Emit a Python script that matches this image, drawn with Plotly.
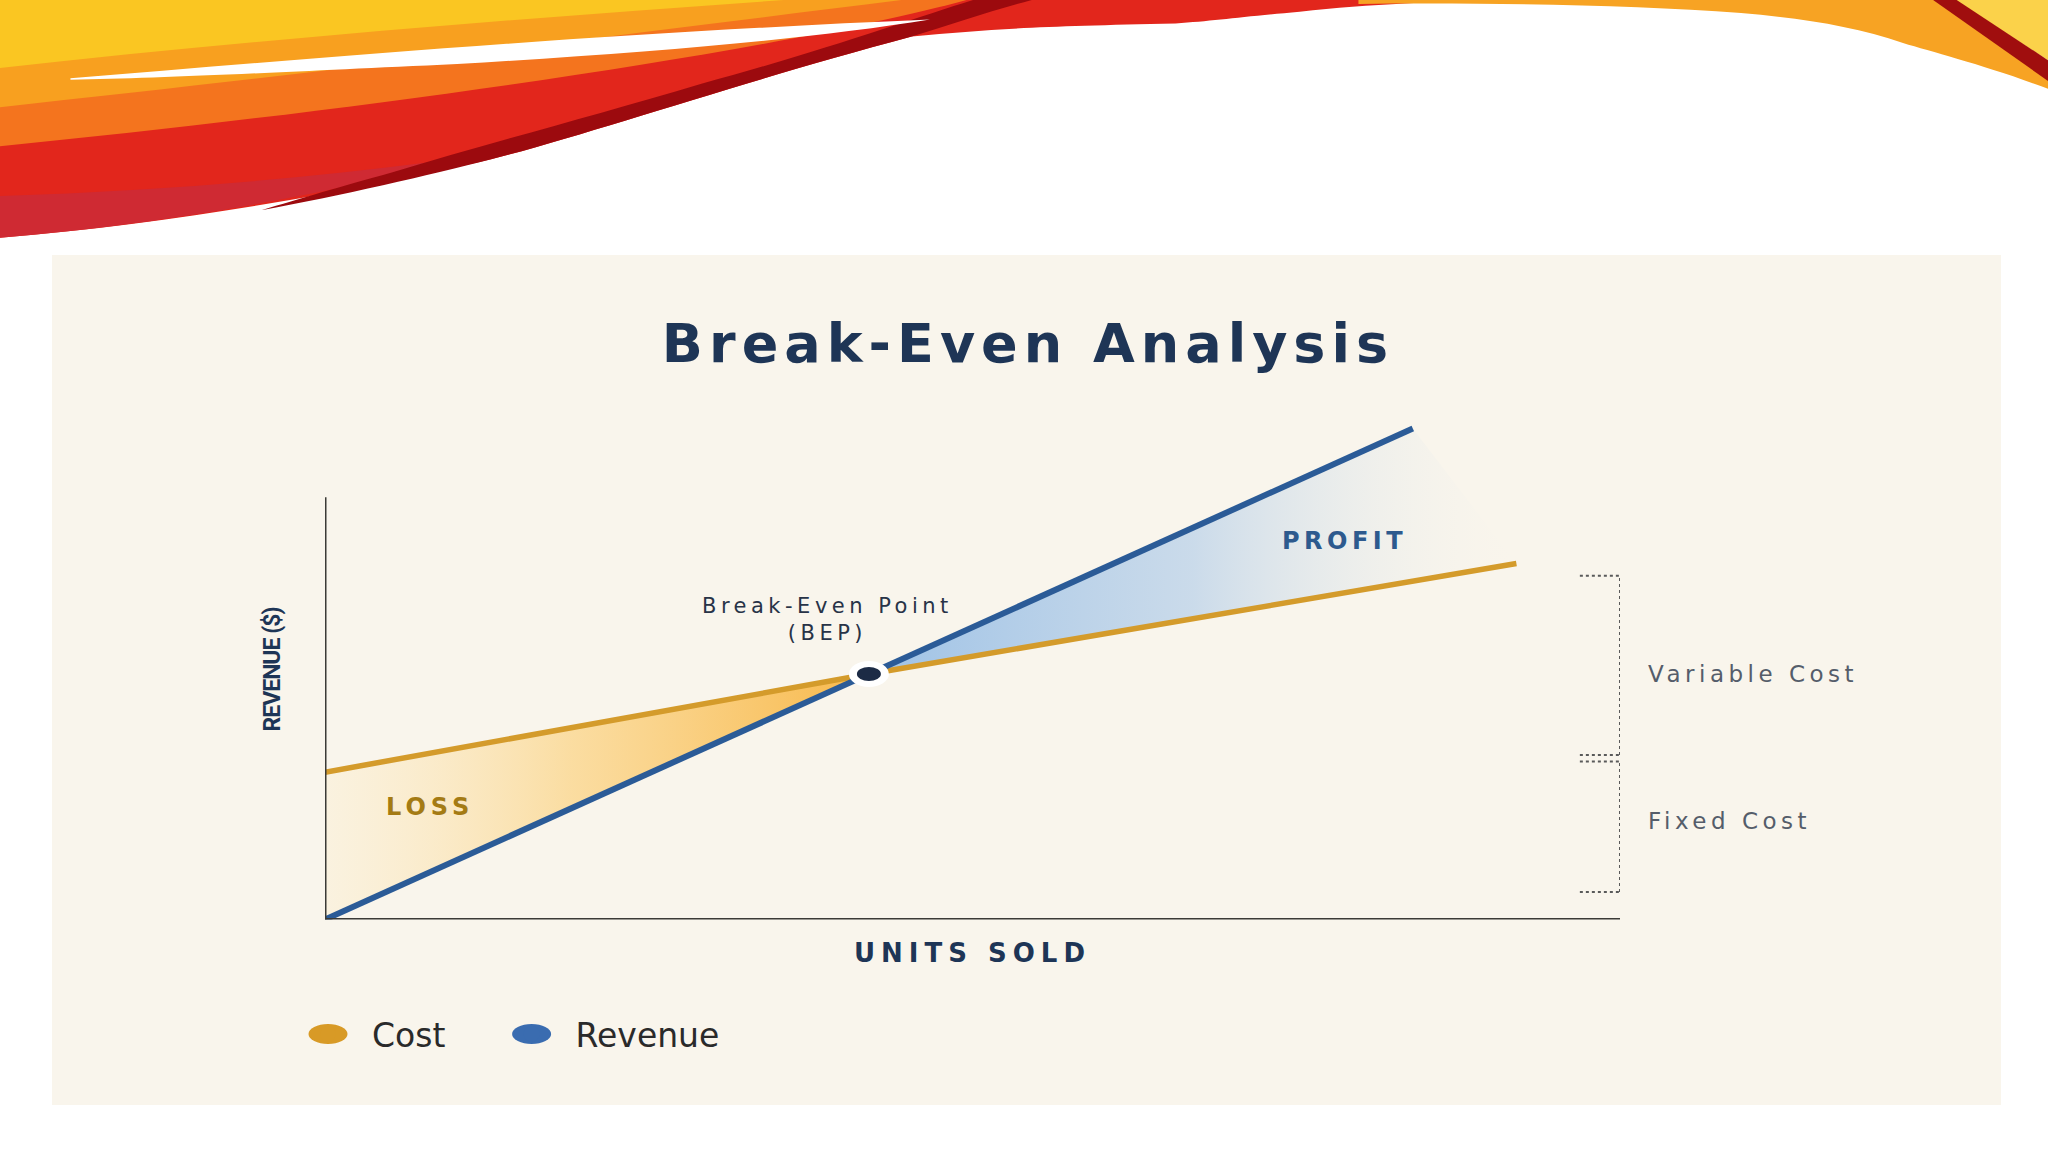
import plotly.graph_objects as go

# ---------------- data ----------------
units_revenue = [0, 42, 84]
revenue = [0, 50, 100]
units_cost = [0, 42, 92]
cost = [30, 50, 72.5]
bep_units = [42]
bep_value = [50]
fixed_cost_span = [5.6, 32.2]
variable_cost_span = [33.5, 70]
axis_top_value = 86
bracket_units = [96.9, 100]
legend_names = ["Cost", "Revenue"]

# ---------------- colours / fonts ----------------
NAVY = "#1E3556"
COST_C = "#D49B2B"
REV_C = "#2B5B97"
PANEL = "#F9F5EC"
FONT = "'DejaVu Sans', Inter, sans-serif"
W, H = 2048, 1152


def PX(x):  # page pixel -> paper x
    return x / W


def PY(y):  # page pixel -> paper y
    return 1 - y / H


def sp(text, px):
    return f'<span style="letter-spacing:{px}px">{text}</span>'


fig = go.Figure()

# loss area
fig.add_trace(go.Scatter(
    x=[units_cost[0], bep_units[0], units_revenue[0], units_cost[0]],
    y=[cost[0], bep_value[0], revenue[0], cost[0]],
    mode="lines", line=dict(width=0), fill="toself",
    fillgradient=dict(type="horizontal",
                      colorscale=[[0, "rgba(252,236,200,0.35)"],
                                  [0.45, "rgba(251,214,140,0.78)"],
                                  [1, "rgba(248,184,74,1)"]]),
    hoverinfo="skip", showlegend=False))

# profit area
fig.add_trace(go.Scatter(
    x=[bep_units[0], units_revenue[-1], units_cost[-1], bep_units[0]],
    y=[bep_value[0], revenue[-1], cost[-1], bep_value[0]],
    mode="lines", line=dict(width=0), fill="toself",
    fillgradient=dict(type="horizontal",
                      colorscale=[[0, "rgba(158,194,230,1)"],
                                  [0.5, "rgba(194,214,234,0.85)"],
                                  [1, "rgba(245,243,236,0)"]]),
    hoverinfo="skip", showlegend=False))

fig.add_trace(go.Scatter(x=units_cost, y=cost, mode="lines", name=legend_names[0],
                         line=dict(color=COST_C, width=5.5),
                         hoverinfo="skip", showlegend=False))
fig.add_trace(go.Scatter(x=units_revenue, y=revenue, mode="lines", name=legend_names[1],
                         line=dict(color=REV_C, width=6),
                         hoverinfo="skip", showlegend=False))
fig.add_trace(go.Scatter(x=bep_units, y=bep_value, mode="markers", name="BEP",
                         marker=dict(size=14, color="#1C2B45"),
                         hoverinfo="skip", showlegend=False))

# legend entries (one legend each, so they can be spaced like the reference)
LEG_COLS = ["#D89A26", "#3A6CB0"]
LEG_X = [328, 531.6]
for nm, col, lg in zip(legend_names, LEG_COLS, ("legend", "legend2")):
    fig.add_trace(go.Scatter(x=[None], y=[None], mode="markers", name=nm, legend=lg,
                             marker=dict(size=16, color=col)))

# ---------------- decorative background (displayed-image coords) ----------------
S = W / 1568


def D(x, y):
    return f"{PX(x * S):.4f},{PY(y * S):.4f}"


def path(pts):
    return " ".join(p if isinstance(p, str) else D(*p) for p in pts)


deco = [
    # red base swoosh
    ("#E2261C", ["M", (0, 0), "L", (1160, 0), "C", (1100, 1), (1050, 3), (995, 9),
                 "C", (950, 13), (930, 16), (900, 18), "C", (800, 20), (760, 22), (698, 28),
                 "C", (560, 65), (460, 100), (376, 122), "C", (300, 140), (150, 170), (0, 182), "Z"]),
    # crimson lower-left
    ("#CF2A33", ["M", (0, 150), "C", (120, 146), (220, 138), (330, 124), "C", (300, 138), (150, 170),
                 (0, 182), "Z"]),
    # dark ribbon edge
    ("#9C0A0E", ["M", (200, 161), "C", (260, 150), (330, 134), (376, 122),
                 "C", (460, 100), (560, 65), (698, 28), "C", (730, 18), (760, 8), (790, 0),
                 "L", (745, 0), "C", (700, 14), (620, 42), (537, 64),
                 "C", (450, 90), (380, 108), (300, 132), "C", (260, 143), (230, 152), (200, 161), "Z"]),
    # orange
    ("#F4741E", ["M", (0, 0), "L", (740, 0), "C", (600, 38), (300, 82), (0, 112), "Z"]),
    # yellow-orange
    ("#F8A01F", ["M", (0, 0), "L", (690, 0), "C", (450, 30), (250, 55), (0, 82), "Z"]),
    # yellow
    ("#FAC622", ["M", (0, 0), "L", (600, 0), "C", (400, 14), (200, 30), (0, 52), "Z"]),
    # white streak
    ("#FFFFFF", ["M", (54, 60), "C", (250, 44), (450, 26), (712, 15),
                 "C", (620, 30), (500, 40), (350, 49), "C", (200, 56), (120, 60), (54, 61), "Z"]),
    # top-right orange band
    ("#F7A323", ["M", (1040, 0), "L", (1490, 0), "L", (1568, 52), "L", (1568, 68),
                 "C", (1520, 50), (1480, 40), (1457, 33), "C", (1420, 20), (1380, 14), (1333, 10),
                 "C", (1250, 4), (1150, 2), (1040, 3), "Z"]),
    ("#FBD24A", ["M", (1496, 0), "L", (1568, 0), "L", (1568, 46), "Z"]),
    ("#A00E0E", ["M", (1480, 0), "L", (1498, 0), "L", (1568, 46), "L", (1568, 62), "Z"]),
]

shapes = []
for col, pts in deco:
    shapes.append(dict(type="path", xref="paper", yref="paper", path=path(pts),
                       fillcolor=col, line=dict(width=0), layer="below"))

# cream panel
shapes.append(dict(type="rect", xref="paper", yref="paper",
                   x0=PX(52), x1=PX(2001), y0=PY(1105), y1=PY(255),
                   fillcolor=PANEL, line=dict(width=0), layer="below"))

# axis lines
AX = "#3B3A36"
shapes.append(dict(type="line", xref="x", yref="y", x0=0, x1=100, y0=0, y1=0,
                   line=dict(color=AX, width=3)))
shapes.append(dict(type="line", xref="x", yref="y", x0=0, x1=0, y0=0, y1=axis_top_value,
                   line=dict(color=AX, width=3)))

# BEP point: white halo + dark elliptical dot
for (hw, hh), col in (((20, 13), "#FFFFFF"), ((12, 7), "#1C2B45")):
    shapes.append(dict(type="circle", xref="x", yref="y", xsizemode="pixel", ysizemode="pixel",
                       xanchor=bep_units[0], yanchor=bep_value[0],
                       x0=-hw, x1=hw, y0=-hh, y1=hh, fillcolor=col, line=dict(width=0),
                       layer="above"))

# dotted brackets
BR = "#5A5A5A"
for lo, hi in (variable_cost_span, fixed_cost_span):
    shapes.append(dict(type="line", xref="x", yref="y", x0=bracket_units[1], x1=bracket_units[1],
                       y0=lo, y1=hi, line=dict(color=BR, width=2, dash="dot")))
    for yv in (lo, hi):
        shapes.append(dict(type="line", xref="x", yref="y", x0=bracket_units[0],
                           x1=bracket_units[1], y0=yv, y1=yv,
                           line=dict(color=BR, width=2, dash="dot")))

# legend symbols drawn as ellipses over the legend markers
for cx, col in zip(LEG_X, LEG_COLS):
    shapes.append(dict(type="circle", xref="paper", yref="paper",
                       x0=PX(cx - 19.5), x1=PX(cx + 19.5), y0=PY(1034 + 10), y1=PY(1034 - 10),
                       fillcolor=col, line=dict(width=0), layer="above"))

annotations = [
    dict(x=8.1, y=22.9, xref="x", yref="y", text=sp("<b>LOSS</b>", 5), showarrow=False,
         font=dict(family=FONT, size=24, color="#A47B14")),
    dict(x=78.7, y=77.1, xref="x", yref="y", text=sp("<b>PROFIT</b>", 4.5), showarrow=False,
         font=dict(family=FONT, size=24, color="#2D5A8E")),
    dict(x=38.8, y=61.0, xref="x", yref="y", text=sp("Break-Even Point<br>(BEP)", 4.5),
         showarrow=False, font=dict(family=FONT, size=21, color="#283347")),
    dict(x=PX(1646), y=PY(674), xref="paper", yref="paper", xanchor="left",
         text=sp("Variable Cost", 4.5), showarrow=False,
         font=dict(family=FONT, size=23, color="#555D6A")),
    dict(x=PX(1646), y=PY(836), xref="paper", yref="paper", xanchor="left",
         text=sp("Fixed Cost", 4.5), showarrow=False,
         font=dict(family=FONT, size=23, color="#555D6A")),
    dict(x=PX(256), y=PY(670), xref="paper", yref="paper", textangle=-90,
         text=sp("<b>REVENUE ($)</b>", -1), showarrow=False,
         font=dict(family="Roboto, sans-serif", size=23, color=NAVY)),
]

LEG_FONT = dict(family=FONT, size=33, color="#2A2A2A")
fig.update_layout(
    width=W, height=H,
    margin=dict(l=0, r=0, t=0, b=0),
    paper_bgcolor="#FFFFFF", plot_bgcolor="rgba(0,0,0,0)",
    title=dict(text=sp("<b>Break-Even Analysis</b>", 6), x=PX(1028), y=PY(343.5),
               xref="paper", yref="paper", xanchor="center", yanchor="middle",
               font=dict(family=FONT, size=54, color=NAVY)),
    xaxis=dict(domain=[PX(325), PX(1620)], range=[0, 100], showgrid=False,
               zeroline=False, showline=False, showticklabels=False, ticks="",
               title=dict(text=sp("<b>UNITS SOLD</b>", 6), standoff=24,
                          font=dict(family=FONT, size=26, color=NAVY))),
    yaxis=dict(domain=[PY(919.5), PY(330.3)], range=[0, 120], showgrid=False,
               zeroline=False, showline=False, showticklabels=False, ticks=""),
    legend=dict(orientation="h", x=PX(LEG_X[0] - 44), y=PY(1034), xanchor="left",
                yanchor="middle", font=LEG_FONT, itemwidth=78,
                bgcolor="rgba(0,0,0,0)", borderwidth=0),
    legend2=dict(orientation="h", x=PX(LEG_X[1] - 44), y=PY(1034), xanchor="left",
                 yanchor="middle", font=LEG_FONT, itemwidth=78,
                 bgcolor="rgba(0,0,0,0)", borderwidth=0),
    shapes=shapes,
    annotations=annotations,
    showlegend=True,
)

fig.write_html("out.html", config={"displayModeBar": False},
               post_script="document.body.style.margin='0';document.body.style.padding='0';")
